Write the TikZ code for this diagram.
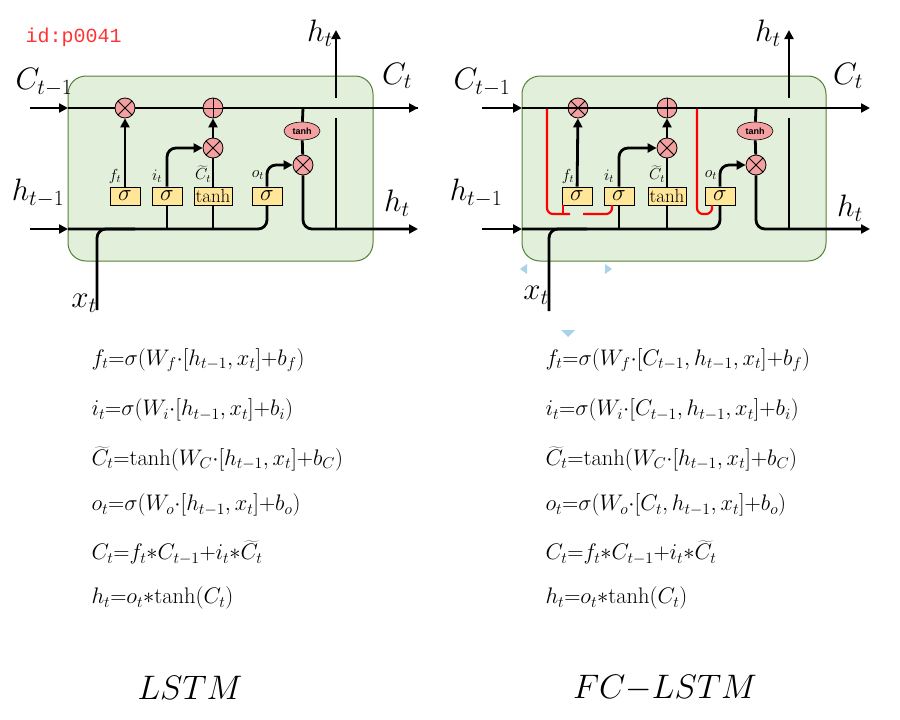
\documentclass[tikz,border=0pt]{standalone}
\usepackage{fix-cm}
\usepackage{fontspec}
\newfontfamily\monof{Liberation Mono}
\newfontfamily\sansf{Liberation Sans}
\usetikzlibrary{arrows.meta,shapes.geometric}
\definecolor{cellg}{HTML}{E2EFDA}
\definecolor{celle}{HTML}{538135}
\definecolor{gate}{HTML}{F4A0A0}
\definecolor{sig}{HTML}{FFE699}
\definecolor{tri}{HTML}{A9D3E8}
\begin{document}
\begin{tikzpicture}[x=1pt,y=-1pt,
  cell/.style={draw=celle,fill=cellg,line width=1pt,rounded corners=18pt},
  ln/.style={line width=2.8pt,rounded corners=9pt},
  arr/.style={ln,-{Triangle[length=9pt,width=9pt]}},
  red/.style={draw=red,line width=2.2pt,rounded corners=6pt},
  mul/.style={circle,draw,fill=gate,minimum size=20pt,inner sep=0pt,line width=0.8pt,
    path picture={\draw[line width=0.8pt] (path picture bounding box.north west)--(path picture bounding box.south east) (path picture bounding box.north east)--(path picture bounding box.south west);}},
  add/.style={circle,draw,fill=gate,minimum size=20pt,inner sep=0pt,line width=0.8pt,
    path picture={\draw[line width=0.8pt] (path picture bounding box.north)--(path picture bounding box.south) (path picture bounding box.east)--(path picture bounding box.west);}},
  sg/.style={draw,fill=sig,minimum width=30pt,minimum height=18pt,inner sep=0pt,line width=0.8pt,font=\fontsize{23}{23}\selectfont},
  th/.style={ellipse,draw,fill=gate,minimum width=36pt,minimum height=18pt,inner sep=0pt,line width=0.6pt,font=\sansf\bfseries\fontsize{9}{9}\selectfont},
  big/.style={font=\fontsize{31}{31}\selectfont},
  small/.style={font=\fontsize{16}{16}\selectfont},
  eq/.style={anchor=west,font=\fontsize{22.5}{22.5}\selectfont},
  tr/.style={fill=tri,draw=none}]
\useasboundingbox (0,0) rectangle (900,720);
\node[anchor=west,text=red!80,font=\monof\fontsize{20}{20}\selectfont] (id) at (22,37) {id:p0041};

% ---------- LSTM ----------
\begin{scope}
\draw[cell] (68,76) rectangle (373,261);
\coordinate (cin) at (30,108); \coordinate (cout) at (418,108);
\coordinate (hin) at (30,229); \coordinate (hout) at (418,229);
\node[mul] (fm) at (125,108) {};
\node[add] (pa) at (213,108) {};
\node[mul] (im) at (213,148) {};
\node[mul] (om) at (303,165) {};
\node[th] (tc) at (302,131) {tanh};
\node[sg] (fs) at (125,196) {$\sigma$};
\node[sg] (is) at (167,196) {$\sigma$};
\node[sg,minimum width=38pt,font=\fontsize{19}{19}\selectfont] (cs) at (213,196) {tanh};
\node[sg] (os) at (267,196) {$\sigma$};
\draw[arr] (cin) -- (68,108);
\draw[ln] (68,108) -- (fm) -- (pa) -- (cout);
\draw[arr] (pa) -- (cout);
\draw[arr] (hin) -- (68,229);
\draw[ln] (68,229) -- (267,229) -- (os.south);
\draw[ln] (97,310) -- (97,229) -- (135,229);
\draw[arr] (fs) -- (fm);
\draw[ln] (is.south) -- (167,229);
\draw[ln] (cs.south) -- (213,229);
\draw[arr] (is.north) -- (167,148) -- (im);
\draw[ln] (cs) -- (im);
\draw[arr] (im) -- (pa);
\draw[arr] (os.north) -- (267,165) -- (om);
\draw[ln] (303,108) -- (tc) -- (om);
\draw[arr] (om) -- (303,229) -- (hout);
\draw[ln] (336,229) -- (336,118);
\draw[arr] (336,98) -- (336,30);
\node[small] (lf) at (115,176) {$f_t$};
\node[small] (li) at (157,176) {$i_t$};
\node[small] (lc) at (203,174) {$\widetilde{C}_t$};
\node[small] (lo) at (258,175) {$o_t$};
\node[big] (l1) at (44,82) {$C_{t-1}$};
\node[big] (l2) at (38,193) {$h_{t-1}$};
\node[big] (l3) at (320,33) {$h_t$};
\node[big] (l4) at (397,76) {$C_t$};
\node[big] (l5) at (397,203) {$h_t$};
\node[big] (l6) at (84,303) {$x_t$};
\end{scope}

% ---------- FC-LSTM ----------
\begin{scope}
\draw[cell] (522,76) rectangle (826,261);
\coordinate (cin2) at (482,108); \coordinate (cout2) at (870,108);
\coordinate (hin2) at (482,229); \coordinate (hout2) at (870,229);
\node[mul] (fm2) at (578,108) {};
\node[add] (pa2) at (667,108) {};
\node[mul] (im2) at (667,148) {};
\node[mul] (om2) at (756,165) {};
\node[th] (tc2) at (755,131) {tanh};
\node[sg] (fs2) at (577,196) {$\sigma$};
\node[sg] (is2) at (619,196) {$\sigma$};
\node[sg,minimum width=38pt,font=\fontsize{19}{19}\selectfont] (cs2) at (667,196) {tanh};
\node[sg] (os2) at (720,196) {$\sigma$};
\draw[red] (547,108) -- (547,214) -- (570,214);
\draw[red,rounded corners=0pt] (563,214) -- (563,205);
\draw[red] (583,214) -- (612,214) -- (612,205);
\draw[red] (697,108) -- (697,214) -- (712,214) -- (712,205);
\draw[arr] (cin2) -- (522,108);
\draw[arr] (522,108) -- (cout2);
\draw[arr] (hin2) -- (522,229);
\draw[ln] (522,229) -- (720,229) -- (os2.south);
\draw[ln] (549,311) -- (549,229) -- (587,229);
\draw[arr] (fs2) -- (fm2);
\draw[ln] (is2.south) -- (619,229);
\draw[ln] (cs2.south) -- (667,229);
\draw[arr] (is2.north) -- (619,148) -- (im2);
\draw[ln] (cs2) -- (im2);
\draw[arr] (im2) -- (pa2);
\draw[arr] (os2.north) -- (720,165) -- (om2);
\draw[ln] (756,108) -- (tc2) -- (om2);
\draw[arr] (om2) -- (756,229) -- (hout2);
\draw[ln] (789,229) -- (789,118);
\draw[arr] (789,98) -- (789,30);
\node[small] (lf2) at (568,176) {$f_t$};
\node[small] (li2) at (609,176) {$i_t$};
\node[small] (lc2) at (657,174) {$\widetilde{C}_t$};
\node[small] (lo2) at (711,175) {$o_t$};
\node[big] (m1) at (482,82) {$C_{t-1}$};
\node[big] (m2) at (476,193) {$h_{t-1}$};
\node[big] (m3) at (768,33) {$h_t$};
\node[big] (m4) at (848,76) {$C_t$};
\node[big] (m5) at (850,208) {$h_t$};
\node[big] (m6) at (536,295) {$x_t$};
\fill[tri] (520,269) -- (527,264) -- (527,274) -- cycle;
\fill[tri] (612,269) -- (605,264) -- (605,274) -- cycle;
\fill[tri] (568,337) -- (561,330) -- (575,330) -- cycle;
\end{scope}

% ---------- equations ----------
\node[eq] (e1) at (88,360) {$f_t{=}\sigma(W_f{\cdot}[h_{t-1},x_t]{+}b_f)$};
\node[eq] (e2) at (88,410) {$i_t{=}\sigma(W_i{\cdot}[h_{t-1},x_t]{+}b_i)$};
\node[eq] (e3) at (88,459) {$\widetilde{C_t}{=}\mathrm{tanh}(W_C{\cdot}[h_{t-1},x_t]{+}b_C)$};
\node[eq] (e4) at (88,505) {$o_t{=}\sigma(W_o{\cdot}[h_{t-1},x_t]{+}b_o)$};
\node[eq] (e5) at (88,553) {$C_t{=}f_t{*}C_{t-1}{+}i_t{*}\widetilde{C_t}$};
\node[eq] (e6) at (88,598) {$h_t{=}o_t{*}\mathrm{tanh}(C_t)$};
\node[eq] (g1) at (542,360) {$f_t{=}\sigma(W_f{\cdot}[C_{t-1},h_{t-1},x_t]{+}b_f)$};
\node[eq] (g2) at (542,410) {$i_t{=}\sigma(W_i{\cdot}[C_{t-1},h_{t-1},x_t]{+}b_i)$};
\node[eq] (g3) at (542,459) {$\widetilde{C_t}{=}\mathrm{tanh}(W_C{\cdot}[h_{t-1},x_t]{+}b_C)$};
\node[eq] (g4) at (542,505) {$o_t{=}\sigma(W_o{\cdot}[C_t,h_{t-1},x_t]{+}b_o)$};
\node[eq] (g5) at (542,553) {$C_t{=}f_t{*}C_{t-1}{+}i_t{*}\widetilde{C_t}$};
\node[eq] (g6) at (542,598) {$h_t{=}o_t{*}\mathrm{tanh}(C_t)$};
\node[font=\fontsize{34}{34}\selectfont] (t1) at (190,688) {$LSTM$};
\node[font=\fontsize{34}{34}\selectfont] (t2) at (665,688) {$FC{-}LSTM$};
\end{tikzpicture}
\end{document}
